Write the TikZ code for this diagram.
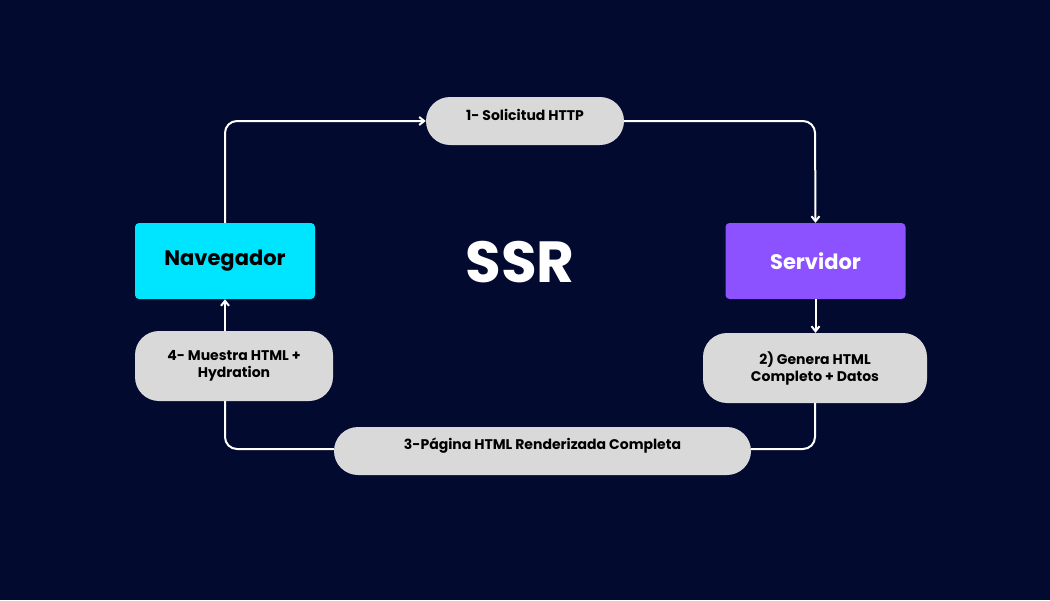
\documentclass[tikz,border=0pt]{standalone}
\usepackage{fontspec}
\setmainfont{Poppins}
\usetikzlibrary{arrows.meta}
\definecolor{bg}{HTML}{020A30}
\definecolor{pill}{HTML}{D9D9D9}
\definecolor{cyanbox}{HTML}{00E5FF}
\definecolor{purplebox}{HTML}{8C52FF}
\begin{document}
\begin{tikzpicture}[x=1pt,y=-1pt,
  pillbox/.style={fill=pill,rounded corners=24pt,inner sep=0pt,font=\bfseries\fontsize{14}{17}\selectfont,align=center,text=black},
  mainbox/.style={rounded corners=4pt,inner sep=0pt,minimum width=180pt,minimum height=76pt,font=\bfseries\fontsize{21}{25}\selectfont,text=black},
  conn/.style={draw=white,line width=2pt,rounded corners=12pt},
  tip/.style={-{Straight Barb[length=5pt,width=8pt]}}]
\fill[bg] (0,0) rectangle (1050,600);
\useasboundingbox (0,0) rectangle (1050,600);
\node[mainbox,fill=cyanbox] (nav) at (225,261) {Navegador};
\node[mainbox,fill=purplebox,text=white] (srv) at (815.5,261) {Servidor};
\node[text=white,font=\bfseries\fontsize{58}{60}\selectfont] (ssr) at (520,262) {SSR};
\node[pillbox,minimum width=198pt,minimum height=48pt] (p1) at (525,121) {};
\node[font=\bfseries\fontsize{14}{17}\selectfont] (t1) at (525,115) {1- Solicitud HTTP};
\node[pillbox,minimum width=224pt,minimum height=70pt] (p2) at (815,368) {2) Genera HTML\\Completo + Datos};
\node[pillbox,minimum width=417pt,minimum height=48pt] (p3) at (542.5,451) {};
\node[font=\bfseries\fontsize{14}{17}\selectfont] (t3) at (542.5,446) {3-Página HTML Renderizada Completa};
\node[pillbox,minimum width=198pt,minimum height=70pt] (p4) at (234,366) {4- Muestra HTML +\\Hydration};
\coordinate (c1) at (225,121);
\coordinate (c2) at (815,121);
\coordinate (c3) at (815,449);
\coordinate (c4) at (225,449);
\draw[conn,tip] (nav.north -| c1) -- (c1) -- (p1.west);
\draw[conn,tip] (p1.east) -- (c2) -- (srv.north);
\draw[conn,tip] (srv.south) -- (p2.north -| srv.south);
\draw[conn] (p2.south -| c3) -- (c3) -- (p3.east |- c3);
\draw[conn] (p3.west |- c4) -- (c4) -- (p4.south -| c4);
\draw[conn,tip] (p4.north -| c4) -- (nav.south -| c4);
\end{tikzpicture}
\end{document}
